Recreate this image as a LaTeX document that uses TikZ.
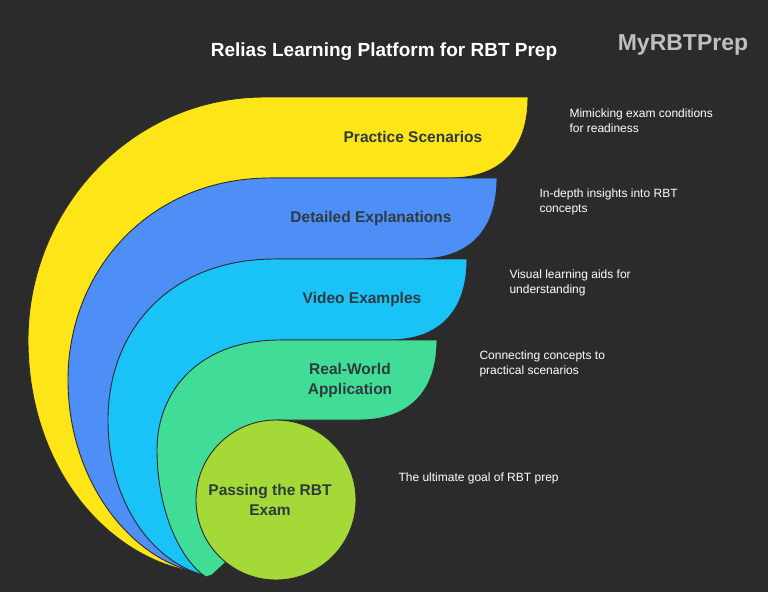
\documentclass[tikz,border=0pt]{standalone}
\usepackage{fontspec}
\setmainfont{Liberation Sans}
\definecolor{bgdark}{HTML}{2B2B2B}
\definecolor{cyellow}{HTML}{FEE517}
\definecolor{cblue}{HTML}{4E8EF7}
\definecolor{ccyan}{HTML}{1AC3F7}
\definecolor{cgreen}{HTML}{41DC95}
\definecolor{clime}{HTML}{A5D937}
\definecolor{ctext}{HTML}{2F3A40}
\begin{document}
\begin{tikzpicture}[x=1pt,y=-1pt,
  band/.style={draw=bgdark,line width=0.9pt},
  lbl/.style={font=\bfseries\fontsize{15.5}{20}\selectfont,text=ctext,align=center},
  desc/.style={font=\fontsize{12}{15}\selectfont,text=white,align=left,anchor=west}]
\fill[bgdark] (0,0) rectangle (768,592);
\useasboundingbox (0,0) rectangle (768,592);
\node[font=\bfseries\fontsize{19}{22}\selectfont,text=white] (title) at (384,52) {Relias Learning Platform for RBT Prep};
\node[font=\bfseries\fontsize{23}{26}\selectfont,text=gray!50] (mark) at (683,45) {MyRBTPrep};
% layers, outer to inner
\filldraw[band,fill=cyellow] (265,97) -- (528,97) .. controls (528,150) and (500,178) .. (450,178)
  -- (270,178) -- (200,573) -- (197,572) .. controls (110,560) and (28,470) .. (28,340)
  .. controls (28,210) and (130,97) .. (265,97) -- cycle;
\filldraw[band,fill=cblue] (270,178) -- (497,178) .. controls (497,231) and (469,259) .. (419,259)
  -- (275,259) -- (203,575) -- (200,573) .. controls (130,560) and (68,480) .. (68,380)
  .. controls (68,270) and (150,178) .. (270,178) -- cycle;
\filldraw[band,fill=ccyan] (275,259) -- (467,259) .. controls (467,312) and (439,340) .. (389,340)
  -- (280,340) -- (206,577) -- (203,575) .. controls (150,560) and (108,500) .. (108,420)
  .. controls (108,330) and (170,259) .. (275,259) -- cycle;
\filldraw[band,fill=cgreen] (280,340) -- (437,340) .. controls (437,392) and (409,420) .. (359,420)
  -- (276,420) -- (250,540) -- (212,575) -- (206,577) .. controls (180,560) and (157,510) .. (157,450)
  .. controls (157,390) and (200,340) .. (280,340) -- cycle;
\filldraw[band,fill=clime] (276,500) circle (80);
% labels
\node[lbl] (l1) at (413,137) {Practice Scenarios};
\node[lbl] (l2) at (371,218) {Detailed Explanations};
\node[lbl] (l3) at (362,299) {Video Examples};
\node[lbl] (l4) at (350,380) {Real-World\\Application};
\node[lbl] (l5) at (270,500) {Passing the RBT\\Exam};
% descriptions
\node[desc] (d1) at (566,121) {Mimicking exam conditions\\for readiness};
\node[desc] (d2) at (536,202) {In-depth insights into RBT\\concepts};
\node[desc] (d3) at (506,283) {Visual learning aids for\\understanding};
\node[desc] (d4) at (476,364) {Connecting concepts to\\practical scenarios};
\node[desc] (d5) at (395,478) {The ultimate goal of RBT prep};
\end{tikzpicture}
\end{document}
